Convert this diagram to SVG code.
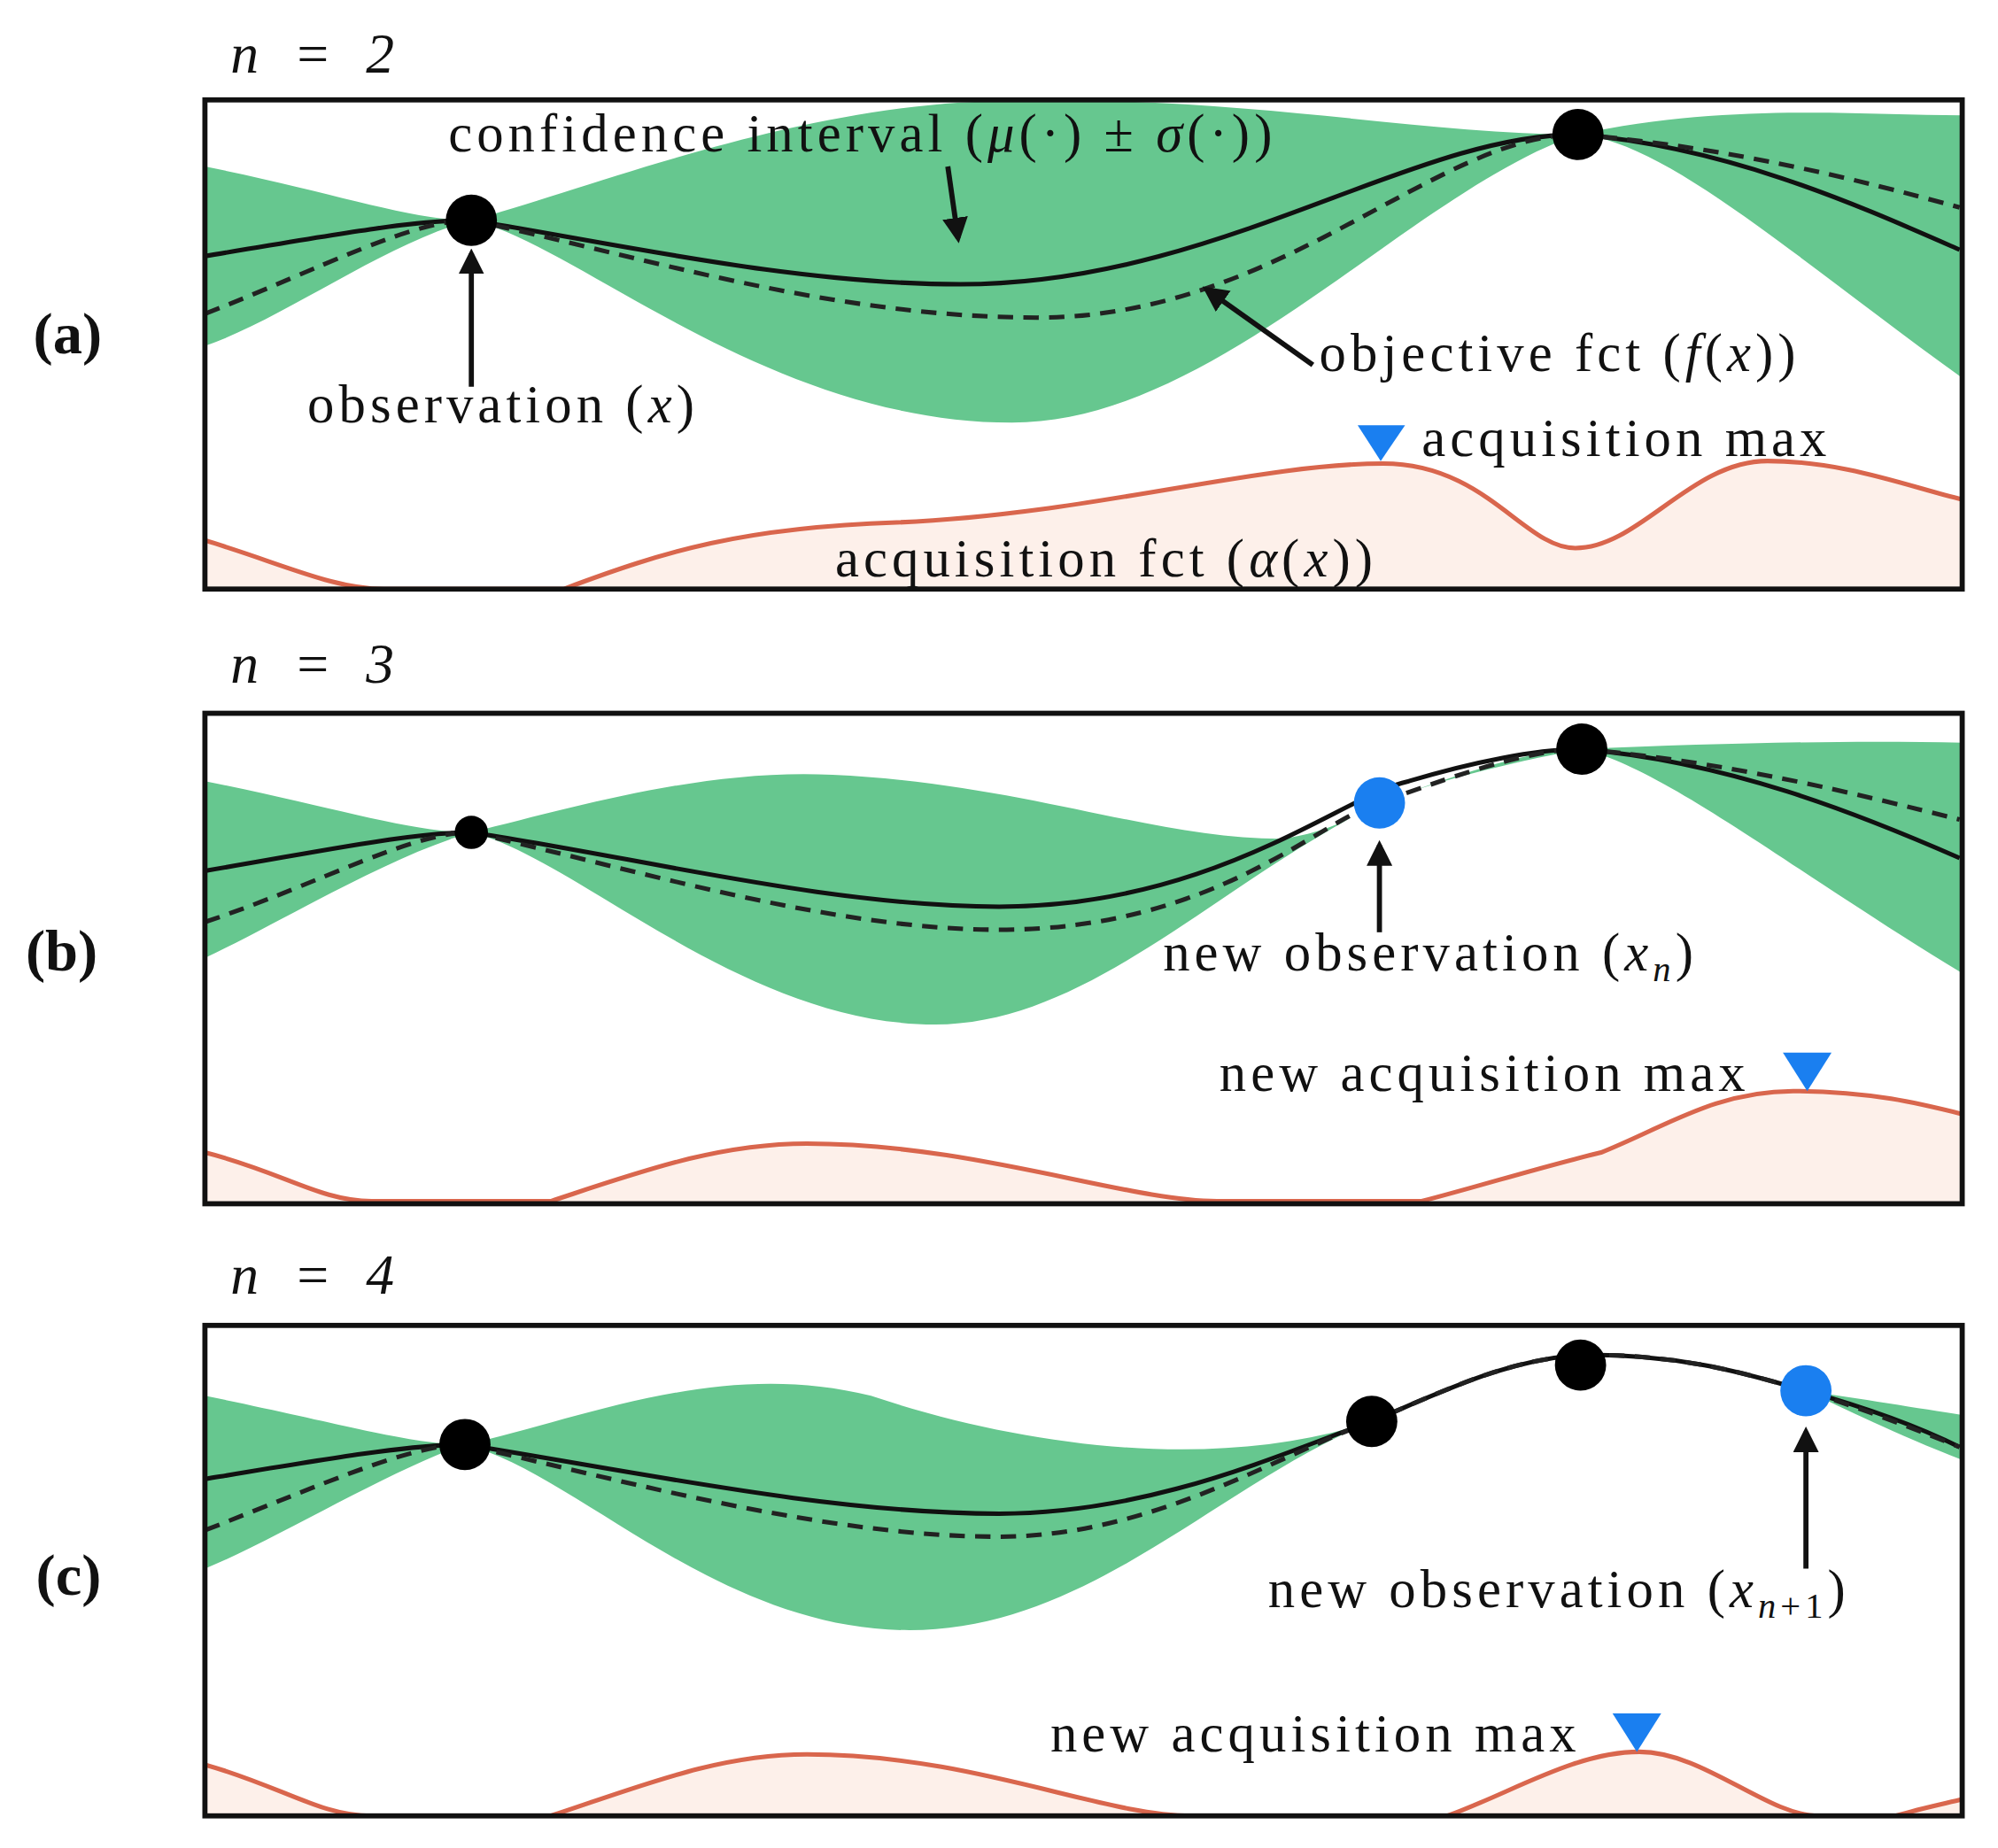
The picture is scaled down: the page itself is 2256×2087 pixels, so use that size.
<svg xmlns="http://www.w3.org/2000/svg" width="2256" height="2087" viewBox="0 0 2256 2087">
<style>
.t{font-family:"Liberation Serif",serif;font-size:42px;letter-spacing:3.5px;fill:#111}
.lab{font-family:"Liberation Serif",serif;font-size:46px;font-weight:bold;fill:#111}
.n{font-family:"Liberation Serif",serif;font-size:44px;font-style:italic;letter-spacing:8px;fill:#111}
.band{fill:#66c78f}
.mu{fill:none;stroke:#111;stroke-width:3.5}
.f{fill:none;stroke:#222;stroke-width:3.5;stroke-dasharray:12 8}
.acq{fill:#fdf0ea;stroke:#d9664d;stroke-width:3.5}
.frame{fill:none;stroke:#111;stroke-width:4}
.arr{stroke:#111;stroke-width:4;fill:none;marker-end:url(#ah)}
</style>
<defs>
<marker id="ah" viewBox="0 0 10 10" refX="8" refY="5" markerWidth="5" markerHeight="5" orient="auto"><path d="M0,0 L10,5 L0,10 z" fill="#111"/></marker>
<clipPath id="ca"><rect x="160" y="78" width="1372" height="382"/></clipPath>
<clipPath id="cb"><rect x="160" y="557" width="1372" height="383"/></clipPath>
<clipPath id="cc"><rect x="160" y="1035" width="1372" height="383"/></clipPath>
</defs>
<rect width="2256" height="2087" fill="#fff"/>
<g transform="scale(1.4462)">
<g id="panel-a">
<text class="n" x="180" y="57">n = 2</text>
<text class="lab" x="26" y="276">(a)</text>
<g clip-path="url(#ca)">
<path class="band" d="M160,130 C260,150 320,172 368,172 C450,150 600,90 750,80 C950,70 1100,105 1232,105 C1350,80 1450,90 1532,90 L1532,295 C1400,200 1300,110 1232,105 C1100,150 950,330 790,330 C600,330 450,190 368,172 C300,190 220,250 160,270 Z"/>
<path class="acq" d="M160,422 C220,440 260,460 300,460 L440,460 C520,430 580,412 700,408 C850,402 980,362 1080,362 C1160,362 1190,428 1230,428 C1280,428 1320,360 1380,360 C1440,360 1490,380 1532,390 L1532,462 L160,462 Z"/>
</g>
<path class="mu" d="M160,200 C250,185 320,172 368,172 C480,190 620,222 750,222 C950,222 1100,105 1232,105 C1350,115 1450,160 1530,195"/>
<path class="f" d="M160,245 C250,210 320,172 368,172 C500,200 650,248 810,248 C1000,248 1120,105 1232,105 C1350,115 1450,140 1530,162"/>
<circle cx="368" cy="172" r="20" fill="#000"/>
<circle cx="1232" cy="105" r="20" fill="#000"/>
<rect class="frame" x="160" y="78" width="1372" height="382"/>
<text class="t" x="350" y="118">confidence interval (<tspan font-style="italic">μ</tspan>(·) ± <tspan font-style="italic">σ</tspan>(·))</text>
<line class="arr" x1="740" y1="130" x2="748" y2="186"/>
<text class="t" x="1030" y="290">objective fct (<tspan font-style="italic">f</tspan>(<tspan font-style="italic">x</tspan>))</text>
<line class="arr" x1="1025" y1="285" x2="942" y2="226"/>
<text class="t" x="240" y="330">observation (<tspan font-style="italic">x</tspan>)</text>
<line class="arr" x1="368" y1="302" x2="368" y2="198"/>
<path d="M1060,332 L1097,332 L1078,360 Z" fill="#1a7ff0"/>
<text class="t" x="1110" y="356">acquisition max</text>
<text class="t" x="652" y="450">acquisition  fct (<tspan font-style="italic">α</tspan>(<tspan font-style="italic">x</tspan>))</text>
</g>
<g id="panel-b">
<text class="n" x="180" y="533">n = 3</text>
<text class="lab" x="20" y="758">(b)</text>
<g clip-path="url(#cb)">
<path class="band" d="M160,610 C260,630 320,650 368,650 C450,630 550,600 650,605 C800,612 900,655 1000,655 C1040,650 1060,635 1077,627 C1150,600 1200,585 1235,585 C1350,580 1450,578 1532,580 L1532,760 C1400,680 1300,600 1235,585 C1180,595 1120,610 1077,627 C950,690 850,800 730,800 C580,800 450,670 368,650 C300,670 220,720 160,748 Z"/>
<path class="acq" d="M160,900 C220,915 250,938 290,938 L430,938 C500,915 560,893 630,893 C760,893 880,938 950,938 L1110,938 C1160,925 1200,912 1250,900 C1300,880 1340,852 1400,852 C1460,852 1500,862 1532,870 L1532,942 L160,942 Z"/>
</g>
<path class="mu" d="M160,680 C250,665 320,650 368,650 C500,670 650,708 780,708 C950,708 1050,620 1100,610 C1150,595 1200,585 1235,585 C1350,595 1450,635 1530,670"/>
<path class="f" d="M160,720 C250,690 320,650 368,650 C500,680 650,726 780,726 C950,726 1030,640 1077,627 C1150,600 1200,585 1235,585 C1350,595 1450,620 1530,640"/>
<circle cx="368" cy="650" r="13" fill="#000"/>
<circle cx="1235" cy="585" r="20" fill="#000"/>
<circle cx="1077" cy="627" r="20" fill="#1a7ff0"/>
<rect class="frame" x="160" y="557" width="1372" height="383"/>
<line class="arr" x1="1077" y1="728" x2="1077" y2="660"/>
<text class="t" x="908" y="758">new observation (<tspan font-style="italic">x</tspan><tspan font-style="italic" font-size="28" dy="8">n</tspan><tspan dy="-8">)</tspan></text>
<text class="t" x="952" y="852">new acquisition max</text>
<path d="M1392,822 L1430,822 L1411,852 Z" fill="#1a7ff0"/>
</g>
<g id="panel-c">
<text class="n" x="180" y="1010">n = 4</text>
<text class="lab" x="28" y="1245">(c)</text>
<g clip-path="url(#cc)">
<path class="band" d="M160,1090 C260,1110 320,1128 363,1128 C450,1110 560,1060 680,1090 C800,1130 950,1150 1071,1110 L1071,1110 C950,1160 850,1273 710,1273 C560,1273 450,1150 363,1128 C300,1150 220,1200 160,1225 Z"/>
<path class="band" d="M1410,1086 C1450,1092 1500,1100 1532,1105 L1532,1140 C1480,1120 1440,1100 1410,1086 Z"/>
<path class="acq" d="M160,1378 C220,1395 250,1418 290,1418 L430,1418 C500,1395 560,1370 630,1370 C760,1370 860,1418 930,1418 L1130,1418 C1180,1400 1230,1368 1280,1368 C1330,1368 1380,1418 1420,1418 L1480,1418 C1500,1412 1520,1408 1532,1405 L1532,1420 L160,1420 Z"/>
</g>
<path class="mu" d="M160,1155 C250,1140 320,1128 363,1128 C500,1150 650,1182 780,1182 C900,1182 1000,1135 1071,1110 C1130,1085 1180,1060 1240,1058 C1320,1058 1370,1075 1410,1086 C1460,1100 1500,1115 1530,1130"/>
<path class="f" d="M160,1195 C250,1160 320,1128 363,1128 C500,1160 650,1200 780,1200 C900,1200 1000,1135 1071,1110 C1130,1085 1180,1060 1240,1058 C1320,1058 1370,1075 1410,1086 C1460,1102 1500,1118 1530,1130"/>
<circle cx="363" cy="1128" r="20" fill="#000"/>
<circle cx="1071" cy="1110" r="20" fill="#000"/>
<circle cx="1234" cy="1066" r="20" fill="#000"/>
<circle cx="1410" cy="1086" r="20" fill="#1a7ff0"/>
<rect class="frame" x="160" y="1035" width="1372" height="383"/>
<line class="arr" x1="1410" y1="1225" x2="1410" y2="1118"/>
<text class="t" x="990" y="1255">new observation (<tspan font-style="italic">x</tspan><tspan font-style="italic" font-size="28" dy="8">n</tspan><tspan font-size="28">+1</tspan><tspan dy="-8">)</tspan></text>
<text class="t" x="820" y="1368">new acquisition max</text>
<path d="M1259,1338 L1297,1338 L1278,1368 Z" fill="#1a7ff0"/>
</g>
</g>
</svg>
